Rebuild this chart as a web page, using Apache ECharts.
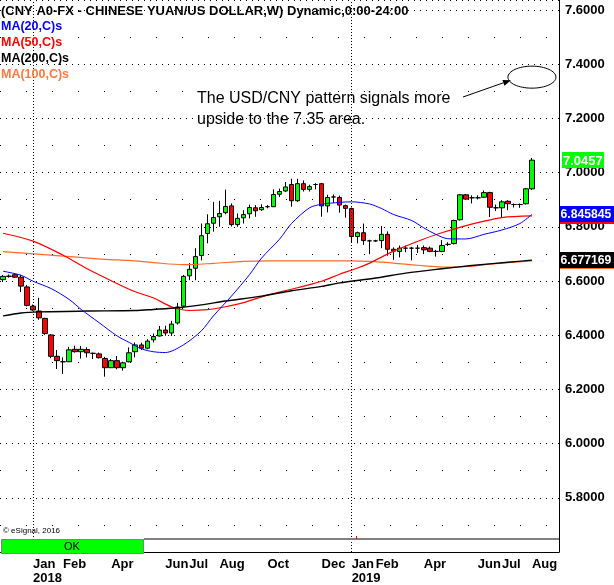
<!DOCTYPE html>
<html>
<head>
<meta charset="utf-8">
<script src="https://cdn.jsdelivr.net/npm/echarts@6/dist/echarts.min.js"></script>
<style>
html, body { margin: 0; padding: 0; background: #fff; }
#chart { width: 614px; height: 585px; }
</style>
</head>
<body>
<div id="chart"></div>
<script>
// weekly slots, first week 2017-11-27 (89 candles + 4 empty weeks on the right)
var firstWeek = Date.UTC(2017, 10, 27);
var weeks = [];
for (var w = 0; w < 93; w++) {
    weeks.push(new Date(firstWeek + w * 7 * 864e5).toISOString().slice(0, 10));
}

// [open, close, low, high]
var candles = [
    [6.605, 6.617, 6.596, 6.622], [6.617, 6.618, 6.612, 6.624], [6.623, 6.614, 6.611, 6.627],
    [6.614, 6.581, 6.559, 6.623], [6.578, 6.510, 6.506, 6.585], [6.507, 6.493, 6.490, 6.513],
    [6.489, 6.464, 6.457, 6.538], [6.462, 6.406, 6.401, 6.464], [6.401, 6.322, 6.315, 6.404],
    [6.322, 6.306, 6.275, 6.345], [6.302, 6.302, 6.257, 6.318], [6.302, 6.346, 6.302, 6.357],
    [6.348, 6.339, 6.336, 6.361], [6.339, 6.348, 6.314, 6.360], [6.347, 6.335, 6.318, 6.355],
    [6.333, 6.333, 6.312, 6.336], [6.331, 6.317, 6.314, 6.336], [6.314, 6.280, 6.247, 6.320],
    [6.280, 6.306, 6.279, 6.312], [6.306, 6.280, 6.274, 6.323], [6.280, 6.298, 6.269, 6.302],
    [6.302, 6.335, 6.300, 6.355], [6.339, 6.364, 6.318, 6.373], [6.364, 6.352, 6.345, 6.372],
    [6.352, 6.378, 6.348, 6.385], [6.383, 6.395, 6.373, 6.406], [6.397, 6.419, 6.395, 6.434],
    [6.419, 6.408, 6.398, 6.435], [6.408, 6.441, 6.397, 6.453], [6.445, 6.504, 6.439, 6.519],
    [6.507, 6.617, 6.505, 6.622], [6.619, 6.643, 6.603, 6.666], [6.647, 6.690, 6.603, 6.721],
    [6.694, 6.767, 6.676, 6.812], [6.775, 6.811, 6.739, 6.846], [6.813, 6.834, 6.782, 6.892],
    [6.837, 6.849, 6.800, 6.896], [6.852, 6.875, 6.846, 6.937], [6.877, 6.808, 6.801, 6.886],
    [6.808, 6.831, 6.800, 6.849], [6.833, 6.845, 6.812, 6.861], [6.848, 6.871, 6.831, 6.882],
    [6.870, 6.859, 6.837, 6.880], [6.863, 6.871, 6.859, 6.883], [6.874, 6.874, 6.868, 6.880],
    [6.874, 6.919, 6.874, 6.938], [6.920, 6.930, 6.910, 6.941], [6.932, 6.947, 6.928, 6.965],
    [6.956, 6.896, 6.874, 6.977], [6.896, 6.959, 6.892, 6.977], [6.959, 6.938, 6.930, 6.971],
    [6.938, 6.948, 6.930, 6.955], [6.956, 6.956, 6.938, 6.961], [6.959, 6.877, 6.837, 6.962],
    [6.877, 6.908, 6.853, 6.918], [6.910, 6.910, 6.888, 6.919], [6.908, 6.880, 6.852, 6.915],
    [6.878, 6.868, 6.834, 6.882], [6.867, 6.764, 6.743, 6.871], [6.764, 6.778, 6.739, 6.782],
    [6.778, 6.749, 6.733, 6.812], [6.748, 6.748, 6.699, 6.752], [6.748, 6.748, 6.745, 6.752],
    [6.749, 6.772, 6.721, 6.803], [6.772, 6.717, 6.693, 6.783], [6.717, 6.710, 6.678, 6.724],
    [6.709, 6.721, 6.687, 6.731], [6.721, 6.721, 6.706, 6.731], [6.721, 6.721, 6.676, 6.726],
    [6.721, 6.721, 6.703, 6.733], [6.723, 6.715, 6.699, 6.731], [6.721, 6.709, 6.706, 6.727],
    [6.709, 6.709, 6.690, 6.715], [6.709, 6.731, 6.706, 6.751], [6.735, 6.735, 6.729, 6.743],
    [6.738, 6.823, 6.735, 6.826], [6.826, 6.918, 6.823, 6.920], [6.918, 6.902, 6.899, 6.921],
    [6.907, 6.907, 6.886, 6.916], [6.907, 6.907, 6.901, 6.916], [6.909, 6.926, 6.907, 6.934],
    [6.926, 6.872, 6.836, 6.929], [6.870, 6.870, 6.858, 6.882], [6.870, 6.892, 6.834, 6.898],
    [6.894, 6.885, 6.861, 6.898], [6.882, 6.882, 6.871, 6.886], [6.882, 6.882, 6.870, 6.886],
    [6.885, 6.940, 6.882, 6.943], [6.940, 7.0457, 6.936, 7.054]
];

// moving averages, [week index, value]
var ma20 = [[0, 6.636], [3, 6.621], [5, 6.599], [8, 6.572], [11, 6.532], [13, 6.495], [16, 6.446],
    [19, 6.397], [21, 6.373], [23, 6.350], [25, 6.339], [27, 6.336], [30, 6.364], [33, 6.416],
    [35, 6.471], [38, 6.544], [41, 6.623], [43, 6.684], [46, 6.754], [48, 6.812], [51, 6.870],
    [53, 6.883], [56, 6.890], [58, 6.892], [61, 6.884], [63, 6.867], [65, 6.845], [68, 6.823],
    [70, 6.796], [72, 6.772], [74, 6.756], [77, 6.755], [80, 6.772], [83, 6.788], [86, 6.812],
    [88, 6.846]];
var ma50 = [[0, 6.776], [5, 6.747], [10, 6.695], [14, 6.645], [18, 6.601], [22, 6.560],
    [25, 6.538], [28, 6.505], [31, 6.491], [34, 6.494], [37, 6.505], [40, 6.520], [44, 6.548],
    [49, 6.575], [53, 6.599], [56, 6.625], [59, 6.648], [61, 6.666], [65, 6.710], [70, 6.755],
    [73, 6.778], [76, 6.798], [79, 6.815], [83, 6.834], [88, 6.840]];
var ma200 = [[0, 6.471], [3, 6.482], [6, 6.486], [14, 6.489], [22, 6.491], [25, 6.495],
    [29, 6.501], [33, 6.512], [37, 6.526], [43, 6.544], [48, 6.564], [53, 6.580], [56, 6.593],
    [62, 6.611], [67, 6.629], [73, 6.645], [78, 6.657], [84, 6.669], [88, 6.677]];
var ma100 = [[0, 6.708], [10, 6.692], [17, 6.680], [21, 6.676], [25, 6.668], [30, 6.660],
    [35, 6.665], [40, 6.672], [44, 6.674], [58, 6.674], [61, 6.672], [65, 6.666], [69, 6.658],
    [74, 6.651], [78, 6.655], [81, 6.662], [88, 6.674]];

// last values shown in the boxes on the price scale (drawn in this order)
var boxValues = [6.674, 6.840, 7.0457, 6.845845, 6.677169];
var boxTexts = ['', '', '7.0457', '6.845845', '6.677169'];
var boxColors = ['#ff6a28', '#ff0000', '#00ff00', '#0000ff', '#000000'];

var tickIndex = [5, 10, 18, 27, 31, 36, 44, 53, 58, 62, 70, 79, 83, 88];
var tickText = ['Jan\n2018', 'Feb', 'Apr', 'Jun', 'Jul', 'Aug', 'Oct', 'Dec', 'Jan\n2019', 'Feb', 'Apr', 'Jun', 'Jul', 'Aug'];
var yearLines = [5, 58];

var FONT = 'Liberation Sans, Arial, sans-serif';

function maSeries(name, data, color, width) {
    return {
        name: name,
        type: 'line',
        data: data,
        showSymbol: false,
        smooth: 0.3,
        silent: true,
        lineStyle: {color: color, width: width}
    };
}

var myChart = echarts.init(document.getElementById('chart'));
myChart.setOption({
    animation: false,
    backgroundColor: '#fff',
    grid: {left: 0, right: 55, top: 0, bottom: 30},
    xAxis: {
        type: 'category',
        data: weeks,
        boundaryGap: true,
        axisLine: {lineStyle: {color: '#000', width: 1}},
        axisTick: {show: false},
        splitLine: {show: false},
        axisLabel: {
            interval: function (index) { return tickIndex.indexOf(index) >= 0; },
            formatter: function (value, index) {
                var k = tickIndex.indexOf(index);
                return k >= 0 ? tickText[k] : '';
            },
            align: 'left',
            margin: 5,
            lineHeight: 14,
            color: '#000',
            fontFamily: FONT,
            fontWeight: 'bold',
            fontSize: 13
        }
    },
    yAxis: {
        type: 'value',
        position: 'right',
        min: 5.6,
        max: 7.6367,
        interval: 0.2,
        axisLine: {show: true, lineStyle: {color: '#000', width: 1}},
        axisTick: {show: false},
        minorTick: {show: false, splitNumber: 2},
        axisLabel: {
            margin: 6,
            color: '#000',
            fontFamily: FONT,
            fontWeight: 'bold',
            fontSize: 13,
            formatter: function (v) { return v < 5.7 ? '' : v.toFixed(4); }
        },
        splitLine: {show: true, lineStyle: {color: '#000', type: [1, 5], width: 1}},
        minorSplitLine: {show: true, lineStyle: {color: '#000', type: [1, 25], width: 1}}
    },
    series: [
        {
            name: 'CNY A0-FX',
            type: 'candlestick',
            data: candles,
            barWidth: 5,
            silent: true,
            itemStyle: {
                color: '#00ff00',
                color0: '#ff0000',
                borderColor: '#000',
                borderColor0: '#000',
                borderColorDoji: '#000',
                borderWidth: 1
            },
            markLine: {
                silent: true,
                symbol: 'none',
                label: {show: false},
                lineStyle: {color: '#000', type: [1, 2], width: 1},
                data: yearLines.map(function (i) { return {xAxis: i}; })
            }
        },
        maSeries('MA(100,C)s', ma100, '#ff6a28', 1.2),
        maSeries('MA(50,C)s', ma50, '#ff0000', 1.2),
        maSeries('MA(200,C)s', ma200, '#000000', 1.4),
        maSeries('MA(20,C)s', ma20, '#0000ff', 1)
    ]
});

// annotation: ellipse round the 7.35 target and an arrow pointing to it
var c = myChart.convertToPixel({seriesIndex: 0}, [88, 7.352]);
var ax0 = 463, ay0 = 97;
var ax1 = c[0] - 21, ay1 = c[1] + 3;
var dx = ax1 - ax0, dy = ay1 - ay0, len = Math.sqrt(dx * dx + dy * dy);
var ux = dx / len, uy = dy / len;
var bx = ax1 - 8 * ux, by = ay1 - 8 * uy;

var headerText = [
    ['(CNY A0-FX - CHINESE YUAN/US DOLLAR,W) Dynamic,0:00-24:00', '#000', 11, 13],
    ['MA(20,C)s', '#0000ff', 27, 12.5],
    ['MA(50,C)s', '#ff0000', 43, 12.5],
    ['MA(200,C)s', '#000000', 59, 12.5],
    ['MA(100,C)s', '#ff7a40', 75, 12.5]
];

var graphics = headerText.map(function (t) {
    return {
        type: 'text', x: 1, y: t[2], z: 100, silent: true,
        style: {text: t[0], fill: t[1], font: 'bold ' + t[3] + 'px ' + FONT, verticalAlign: 'middle'}
    };
});

// value boxes on the price scale
boxValues.forEach(function (v, i) {
    var py = Math.round(myChart.convertToPixel({seriesIndex: 0}, [88, v])[1]);
    var longText = !boxTexts[i] || boxTexts[i].length > 6;
    graphics.push({
        type: 'rect', z: 110 + i * 2, silent: true,
        shape: {x: longText ? 560 : 562, y: py - 8, width: longText ? 54 : 42, height: 16},
        style: {fill: boxColors[i]}
    });
    if (boxTexts[i]) {
        graphics.push({
            type: 'text', x: longText ? 560.5 : 563, y: py + 1, z: 111 + i * 2, silent: true,
            style: {text: boxTexts[i], fill: '#fff', font: 'bold ' + (longText ? 12.2 : 13) + 'px ' + FONT,
                verticalAlign: 'middle'}
        });
    }
});

graphics = graphics.concat([
    {
        type: 'text', x: 197, y: 88, z: 100, silent: true,
        style: {text: 'The USD/CNY pattern signals more\nupside to the 7.35 area.', fill: '#000',
            font: '16px ' + FONT, lineHeight: 21}
    },
    {
        type: 'ellipse', z: 100, silent: true,
        shape: {cx: c[0], cy: c[1], rx: 24, ry: 11},
        style: {fill: 'none', stroke: '#000', lineWidth: 1}
    },
    {
        type: 'line', z: 100, silent: true,
        shape: {x1: ax0, y1: ay0, x2: bx, y2: by},
        style: {stroke: '#000', lineWidth: 1}
    },
    {
        type: 'polygon', z: 100, silent: true,
        shape: {points: [[ax1, ay1], [bx + 3 * uy, by - 3 * ux], [bx - 3 * uy, by + 3 * ux]]},
        style: {fill: '#000'}
    },
    {
        type: 'text', x: 3, y: 527, z: 100, silent: true,
        style: {text: '\u00a9 eSignal, 2016', fill: '#000', font: '8px ' + FONT}
    },
    {
        type: 'line', z: 100, silent: true,
        shape: {x1: 144, y1: 539, x2: 559, y2: 539},
        style: {stroke: '#808080', lineWidth: 2}
    },
    {
        type: 'rect', z: 100, silent: true,
        shape: {x: 1.5, y: 539.5, width: 142, height: 14},
        style: {fill: '#00ff00', stroke: '#808080', lineWidth: 1}
    },
    {
        type: 'text', x: 64, y: 541, z: 101, silent: true,
        style: {text: 'OK', fill: '#000', font: '11px ' + FONT}
    },
    {
        type: 'rect', z: 100, silent: true,
        shape: {x: 356, y: 536, width: 1, height: 3},
        style: {fill: '#ff0000'}
    }
]);
myChart.setOption({graphic: graphics});
</script>
</body>
</html>
